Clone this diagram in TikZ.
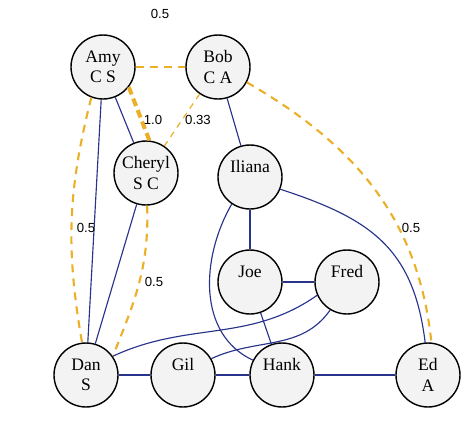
\documentclass[tikz,border=0pt]{standalone}
\usepackage{fontspec}
\setmainfont{Liberation Serif}
\newfontfamily\lblfont{Liberation Sans}
\definecolor{linkblue}{RGB}{40,52,140}
\definecolor{simorange}{RGB}{235,175,40}
\definecolor{persongray}{RGB}{243,243,243}

\begin{document}
\begin{tikzpicture}[x=0.02cm,y=0.02cm,
   person/.style={circle,draw,line width=0.8pt,fill=persongray,
                  minimum size=1.28cm,inner sep=0pt,align=center,
                  font=\fontsize{10}{11.5}\selectfont},
   link/.style={draw=linkblue,line width=0.65pt},
   sim/.style={draw=simorange,line width=1.2pt,dash pattern=on 4.5pt off 3.5pt},
   simthin/.style={draw=simorange,line width=0.7pt,dash pattern=on 3.5pt off 3pt},
   simthick/.style={draw=simorange,line width=2.3pt,dash pattern=on 4.5pt off 2.5pt},
   lbl/.style={font=\lblfont\fontsize{7.5}{9}\selectfont,inner sep=1pt}]

\useasboundingbox (0,0) rectangle (474,424);

% people
\node[person] (amy)    at (103,357) {Amy\\C S};
\node[person] (bob)    at (218,357) {Bob\\C A};
\node[person] (cheryl) at (146,251) {Cheryl\\S C};
\node[person] (iliana) at (250,247) {Iliana\\\mbox{}};
\node[person] (joe)    at (250,142) {Joe\\\mbox{}};
\node[person] (fred)   at (347,142) {Fred\\\mbox{}};
\node[person] (dan)    at (86,49)   {Dan\\S};
\node[person] (gil)    at (183,49)  {Gil\\\mbox{}};
\node[person] (hank)   at (282,49)  {Hank\\\mbox{}};
\node[person] (ed)     at (428,49)  {Ed\\A};

% similarity edges
\draw[sim] (amy) -- (bob);
\draw[simthick] (amy.-38) -- (cheryl.84);
\draw[simthin] (bob) -- (cheryl);
\draw[sim] (bob.-28) to[out=-30,in=96] (ed.84);
\draw[sim] (amy.-111) to[bend right=12] (dan.97);
\draw[sim] (cheryl.-88) to[out=-88,in=68] (dan.35);

% friendship edges
\draw[link] (amy) -- (cheryl);
\draw[link] (bob) -- (iliana);
\draw[link] (amy) -- (dan);
\draw[link] (cheryl) -- (dan);
\draw[link] (iliana) -- (joe);
\draw[link] (iliana.-124) to[out=-120,in=155] (hank.153);
\draw[link] (iliana.-22) to[out=-18,in=97,looseness=1.15] (ed.95);
\draw[link] (joe) -- (fred);
\draw[link] (joe) -- (hank);
\draw[link] (fred.-156) to[out=-145,in=25] (dan.35);
\draw[link] (fred.-121) to[out=-125,in=25] (gil.30);
\draw[link] (dan) -- (gil);
\draw[link] (gil) -- (hank);
\draw[link] (hank) -- (ed);

% weights
\node[lbl] (w-ab) at (160,410) {0.5};
\node[lbl] (w-ac) at (153,304) {1.0};
\node[lbl] (w-bc) at (198,304) {0.33};
\node[lbl] (w-ad) at (86,196)  {0.5};
\node[lbl] (w-cd) at (154,142) {0.5};
\node[lbl] (w-be) at (411,196) {0.5};

\end{tikzpicture}
\end{document}
